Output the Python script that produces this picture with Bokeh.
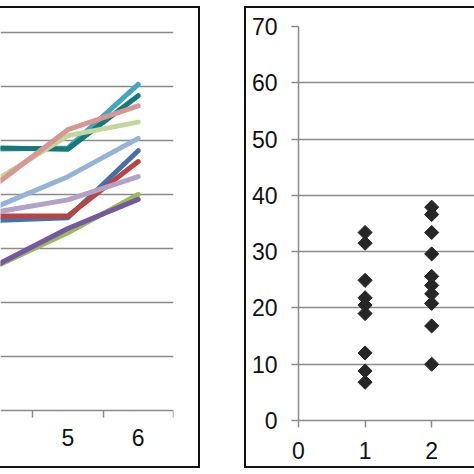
from math import pi

from bokeh.plotting import figure
from bokeh.layouts import row, column
from bokeh.models import FixedTicker, LinearAxis, Range1d, Spacer
from bokeh.embed import file_html
from bokeh.resources import INLINE

# left chart (cropped): only categories 4-6 are visible
cats = [4, 5, 6]
cyan = [48.4, 48.6, 60.4]
teal = [48.6, 48.4, 58.3]
pink = [42.1, 52.0, 56.4]
lime = [42.8, 50.9, 53.4]
sky = [37.8, 43.3, 50.4]
blue = [35.2, 35.7, 48.1]
red = [36.0, 36.0, 46.1]
lavender = [36.8, 39.0, 43.3]
green = [26.8, 32.9, 40.0]
purple = [27.0, 33.7, 39.1]

# right chart: values per group
group1 = [33.4, 31.5, 24.9, 21.8, 20.5, 19.0, 12.0, 8.8, 6.8]
group2 = [37.9, 36.6, 33.4, 29.6, 25.6, 24.0, 22.5, 20.8, 16.8, 10.0]

y_ticks = [0, 10, 20, 30, 40, 50, 60, 70]
left_x_ticks = [4, 5, 6]
left_x_bounds = [4.5, 5.5, 6.5]
right_x_ticks = [0, 1, 2]

FONT = "Liberation Sans"
GRAY = "#8a8a8a"
INK = "#111111"


def style_axis(ax):
    ax.axis_line_color = GRAY
    ax.axis_line_width = 1.5
    ax.major_tick_line_color = GRAY
    ax.major_tick_line_width = 1.5
    ax.major_tick_in = 0
    ax.major_tick_out = 7
    ax.minor_tick_line_color = None
    ax.major_label_text_font = FONT
    ax.major_label_text_font_size = "23px"
    ax.major_label_text_color = INK


# ---- left panel (frame shares the right panel's box, axis pinned at 0)
p1 = figure(width=200, height=462, output_backend="svg", toolbar_location=None,
            x_range=Range1d(4.043, 6.502), y_range=Range1d(-1.852, 71.111),
            min_border_left=0, min_border_right=27,
            min_border_top=20, min_border_bottom=48)
p1.background_fill_color = None
p1.border_fill_color = None
p1.outline_line_color = None
p1.yaxis.visible = False
p1.yaxis.ticker = FixedTicker(ticks=y_ticks[1:])
p1.xgrid.visible = False
p1.ygrid.grid_line_color = GRAY
p1.ygrid.grid_line_width = 1.5

# axis line + category boundary ticks, pinned at y=0
xa = p1.xaxis[0]
style_axis(xa)
xa.fixed_location = 0
xa.ticker = FixedTicker(ticks=[], minor_ticks=left_x_bounds)
xa.minor_tick_line_color = GRAY
xa.minor_tick_line_width = 1.5
xa.minor_tick_in = 0
xa.minor_tick_out = 7

# category labels
xl = LinearAxis(ticker=FixedTicker(ticks=left_x_ticks))
style_axis(xl)
xl.axis_line_color = None
xl.major_tick_line_color = None
xl.major_tick_out = 0
xl.major_label_standoff = 8
p1.add_layout(xl, "below")

series = [
    (cyan, "#42A6C0"),
    (teal, "#177878"),
    (blue, "#4572AE"),
    (red, "#BA4441"),
    (sky, "#95B3D7"),
    (lavender, "#B3A2C7"),
    (green, "#9BBB59"),
    (purple, "#7459A0"),
    (lime, "#C3D69B"),
    (pink, "#D99694"),
]
for vals, col in series:
    p1.line(cats, vals, line_color=col, line_width=5,
            line_cap="round", line_join="round")

p1.styles = {"box-shadow": "inset 0 2px 0 #111, inset 0 -2px 0 #111, inset -2px 0 0 #111"}

# ---- right panel
p2 = figure(width=230, height=462, output_backend="svg", toolbar_location=None,
            x_range=Range1d(0, 2.643), y_range=Range1d(0, 70),
            min_border_left=54, min_border_right=0,
            min_border_top=20, min_border_bottom=48)
p2.background_fill_color = None
p2.border_fill_color = None
p2.outline_line_color = None
p2.xgrid.visible = False
p2.ygrid.grid_line_color = GRAY
p2.ygrid.grid_line_width = 1.5

style_axis(p2.xaxis[0])
style_axis(p2.yaxis[0])
p2.xaxis.ticker = FixedTicker(ticks=right_x_ticks)
p2.yaxis.ticker = FixedTicker(ticks=y_ticks)
p2.xaxis.major_label_standoff = 14
p2.yaxis.major_label_standoff = 14

xs = [1] * len(group1) + [2] * len(group2)
ys = group1 + group2
p2.scatter(xs, ys, marker="square", angle=pi / 4, size=10,
           fill_color="#262626", line_color="#262626")

p2.styles = {"box-shadow": "inset 0 2px 0 #111, inset 0 -2px 0 #111, inset 2px 0 0 #111"}

layout = column(Spacer(height=6), row(p1, p2, spacing=44))

open("out.html", "w").write(file_html(layout, INLINE))
